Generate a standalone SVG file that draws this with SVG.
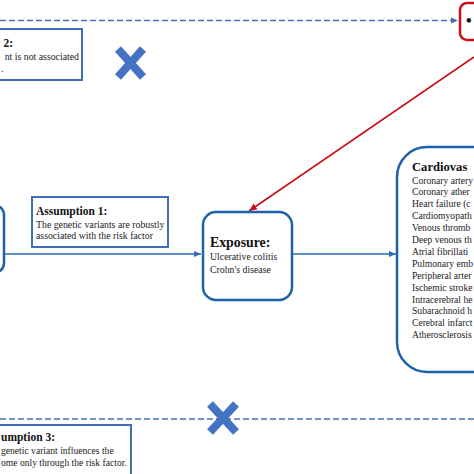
<svg xmlns="http://www.w3.org/2000/svg" width="474" height="474" viewBox="0 0 474 474">
<defs>
<style>
.t{font-family:"Liberation Serif","Times New Roman",serif;fill:#222}
.b{font-weight:bold;fill:#111}
.abox{fill:#fff;stroke:#3d6db3;stroke-width:2}
.node{fill:#fff;stroke:#1f62ac;stroke-width:2.5}
.conn{stroke:#2e6db5;stroke-width:1.5;fill:none}
.dash{stroke:#4a6fb5;stroke-width:1.6;stroke-dasharray:6 3;fill:none}
.x{stroke:#4472c4;stroke-width:8;stroke-linecap:butt}
</style>
<marker id="ab" markerWidth="8" markerHeight="8" refX="7" refY="4" orient="auto" markerUnits="userSpaceOnUse"><path d="M0,1 L7,4 L0,7 Z" fill="#2e6db5"/></marker>
<marker id="ad" markerWidth="8" markerHeight="8" refX="7" refY="4" orient="auto" markerUnits="userSpaceOnUse"><path d="M0,1 L7,4 L0,7 Z" fill="#4a6fb5"/></marker>
<marker id="ar" markerWidth="9" markerHeight="9" refX="8" refY="4.5" orient="auto" markerUnits="userSpaceOnUse"><path d="M0,1 L8,4.5 L0,8 Z" fill="#c8101a"/></marker>
</defs>
<rect width="474" height="474" fill="#fff"/>

<g id="connectors">
<line class="dash" x1="0" y1="20.5" x2="458" y2="20.5" marker-end="url(#ad)"/>
<line class="dash" x1="0" y1="419" x2="474" y2="419"/>
<line class="conn" x1="4" y1="254" x2="201" y2="254" marker-end="url(#ab)"/>
<line class="conn" x1="293" y1="254" x2="396" y2="254" marker-end="url(#ab)"/>
<line x1="474" y1="57" x2="249" y2="211" stroke="#c8101a" stroke-width="1.6" marker-end="url(#ar)"/>
</g>

<g id="confounder">
<rect x="460" y="3" width="60" height="37" rx="7" fill="#fff" stroke="#c8101a" stroke-width="2.5"/>
<text class="t b" x="466" y="26" font-size="16">•</text>
</g>

<g id="assumption2">
<rect class="abox" x="-80" y="29" width="162" height="51"/>
<text class="t b" x="13" y="47" font-size="11.5" text-anchor="end">2:</text>
<text class="t" x="79" y="60" font-size="9.8" text-anchor="end">nt is not associated</text>
<text class="t" x="1" y="72" font-size="9.8">.</text>
</g>

<g id="cross-top">
<line class="x" x1="118" y1="49" x2="143" y2="77"/>
<line class="x" x1="143" y1="49" x2="118" y2="77"/>
</g>

<g id="genetic">
<rect class="node" x="-60" y="205" width="64" height="68" rx="10"/>
</g>

<g id="assumption1">
<rect class="abox" x="32" y="197" width="136" height="50"/>
<text class="t b" x="36" y="215" font-size="11.5">Assumption 1:</text>
<text class="t" x="36" y="227.5" font-size="9.8">The genetic variants are robustly</text>
<text class="t" x="36" y="239" font-size="9.8">associated with the risk factor</text>
</g>

<g id="exposure">
<rect class="node" x="203" y="212" width="89" height="88" rx="13"/>
<text class="t b" x="210" y="247" font-size="13.8">Exposure:</text>
<text class="t" x="210" y="260" font-size="9.8">Ulcerative colitis</text>
<text class="t" x="210" y="273" font-size="9.8">Crohn's disease</text>
</g>

<g id="outcome">
<rect class="node" x="397" y="147" width="120" height="225" rx="30"/>
<text class="t b" x="412" y="171" font-size="12.6">Cardiovas</text>
<g class="t" font-size="9.6">
<text x="412" y="183.5">Coronary artery</text>
<text x="412" y="195.4">Coronary ather</text>
<text x="412" y="207.3">Heart failure (c</text>
<text x="412" y="219.2">Cardiomyopath</text>
<text x="412" y="231.1">Venous thromb</text>
<text x="412" y="243">Deep venous th</text>
<text x="412" y="254.9">Atrial fibrillati</text>
<text x="412" y="266.8">Pulmonary emb</text>
<text x="412" y="278.7">Peripheral arter</text>
<text x="412" y="290.6">Ischemic stroke</text>
<text x="412" y="302.5">Intracerebral he</text>
<text x="412" y="314.4">Subarachnoid h</text>
<text x="412" y="326.3">Cerebral infarct</text>
<text x="412" y="338.2">Atherosclerosis</text>
</g>
</g>

<g id="cross-bottom">
<line class="x" x1="210" y1="404" x2="236" y2="432"/>
<line class="x" x1="236" y1="404" x2="210" y2="432"/>
</g>

<g id="assumption3">
<rect class="abox" x="-30" y="425" width="161" height="60"/>
<text class="t b" x="1" y="441" font-size="11.5">umption 3:</text>
<text class="t" x="1" y="454" font-size="9.6">genetic variant influences the</text>
<text class="t" x="1" y="466" font-size="9.6">ome only through the risk factor.</text>
</g>
</svg>
